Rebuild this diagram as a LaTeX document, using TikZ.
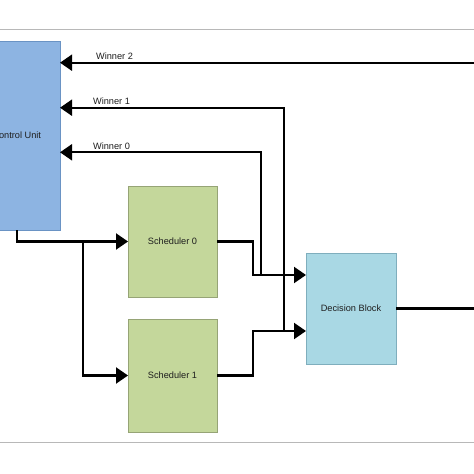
\documentclass[tikz,border=0pt]{standalone}
\usepackage{fontspec}
\setmainfont{Liberation Sans}
\usetikzlibrary{arrows.meta}
\definecolor{cufill}{HTML}{8DB4E2}
\definecolor{cudraw}{HTML}{6A93C4}
\definecolor{schfill}{HTML}{C4D79B}
\definecolor{schdraw}{HTML}{96A476}
\definecolor{dbfill}{HTML}{A9D8E4}
\definecolor{dbdraw}{HTML}{7FAEBD}
\definecolor{txt}{HTML}{1E1E1E}
\tikzset{
  blk/.style={rectangle, outer sep=0pt, inner sep=0pt, line width=0.8pt, text=txt,
    font=\fontsize{9.2}{11}\selectfont},
  conn/.style={draw=black, line width=2.1pt, -{Triangle[length=12pt,width=16pt]}},
  wire/.style={draw=black, line width=2.1pt},
  lbl/.style={font=\fontsize{9.2}{11}\selectfont, text=txt, inner sep=0pt},
  rule/.style={draw=black!28, line width=0.9pt}
}
\begin{document}
\begin{tikzpicture}[x=1pt,y=-1pt]
\useasboundingbox (0,0) rectangle (474,474);
\fill[white] (0,0) rectangle (474,474);
% gray rules
\coordinate (rtl) at (0,29);
\coordinate (rtr) at (474,29);
\coordinate (rbl) at (0,442);
\coordinate (rbr) at (474,442);
\draw[rule] (rtl) -- (rtr);
\draw[rule] (rbl) -- (rbr);
% blocks
\node[blk, fill=cufill, draw=cudraw, minimum width=86.6pt, minimum height=189pt] (cu) at (16.7,135.5) {Control Unit};
\node[blk, fill=schfill, draw=schdraw, minimum width=89pt, minimum height=111pt] (s0) at (172.5,241.5) {Scheduler 0};
\node[blk, fill=schfill, draw=schdraw, minimum width=89pt, minimum height=113pt] (s1) at (172.5,375.5) {Scheduler 1};
\node[blk, fill=dbfill, draw=dbdraw, minimum width=90pt, minimum height=111pt] (db) at (351,308.5) {Decision Block};
% helper coordinates
\coordinate (br) at (83,241.5);
\coordinate (j0) at (252.7,241.5);
\coordinate (j1) at (252.7,375.5);
\coordinate (din0) at (306,275);
\coordinate (din1) at (306,331);
\coordinate (w0) at (261,275);
\coordinate (w1) at (284,331);
\coordinate (w2) at (480,62.7);
\coordinate (cu2) at (60,62.7);
\coordinate (cu1) at (60,107.7);
\coordinate (cu0) at (60,152.3);
\coordinate (out) at (480,308.5);
% control unit to schedulers
\draw[conn] (cu.south) |- (s0.west);
\draw[conn] (br) |- (s1.west);
% schedulers to decision block
\draw[conn] (s0.east) -- (j0) |- (din0);
\draw[conn] (s1.east) -- (j1) |- (din1);
% winner feedback
\draw[conn] (w2) -- (cu2);
\draw[conn] (w1) |- (cu1);
\draw[conn] (w0) |- (cu0);
% output
\draw[wire] (db.east) -- (out);
% labels
\node[lbl] (l2) at (114.5,56) {Winner 2};
\node[lbl] (l1) at (111.5,101) {Winner 1};
\node[lbl] (l0) at (111.5,146) {Winner 0};
\end{tikzpicture}
\end{document}
